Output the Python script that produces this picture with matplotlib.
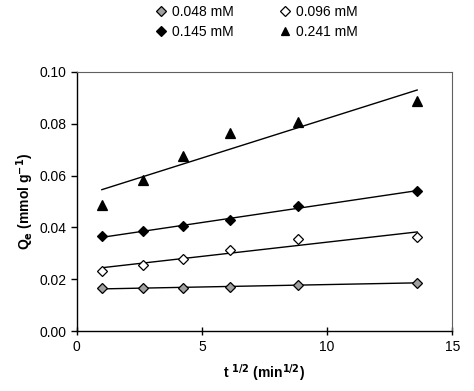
import numpy as np
import matplotlib
matplotlib.use("Agg")
import matplotlib.pyplot as plt

plt.rcParams['font.family'] = ['Liberation Sans', 'DejaVu Sans']
plt.rcParams['mathtext.default'] = 'regular'

t_sqrt = [1.0, 2.65, 4.24, 6.12, 8.83, 13.6]
labels = ["0.048 mM", "0.096 mM", "0.145 mM", "0.241 mM"]
q_048 = [0.0165, 0.0166, 0.0167, 0.0172, 0.0178, 0.0187]
q_096 = [0.0234, 0.0255, 0.0279, 0.0315, 0.0357, 0.0362]
q_145 = [0.0366, 0.0385, 0.0404, 0.0428, 0.0484, 0.0540]
q_241 = [0.0488, 0.0585, 0.0676, 0.0764, 0.0805, 0.0886]
x_ticks = [0, 5, 10, 15]
y_ticks = [0.00, 0.02, 0.04, 0.06, 0.08, 0.10]

series = [
    (q_048, dict(marker='D', mfc='#a0a0a0', mec='black', ms=5.5, mew=0.9)),
    (q_096, dict(marker='D', mfc='white', mec='black', ms=5.5, mew=0.9)),
    (q_145, dict(marker='D', mfc='black', mec='black', ms=5.5, mew=0.9)),
    (q_241, dict(marker='^', mfc='black', mec='black', ms=7, mew=0.9)),
]

fig = plt.figure(figsize=(4.74, 3.91), dpi=100)
ax = fig.add_axes([0.162, 0.153, 0.792, 0.663])

x = np.array(t_sqrt)
handles = []
for (y, st), lab in zip(series, labels):
    h, = ax.plot(x, y, linestyle='none', label=lab, **st)
    handles.append(h)
    k, b = np.polyfit(x, y, 1)
    xl = np.array([x[0], x[-1]])
    ax.plot(xl, k * xl + b, color='black', lw=1.0, zorder=1)

ax.set_xlim(0, 15)
ax.set_ylim(0, 0.10)
ax.set_xticks(x_ticks)
ax.set_yticks(y_ticks)
ax.set_yticklabels([f"{v:.2f}" for v in y_ticks])
ax.tick_params(axis='x', direction='inout', length=6, labelsize=10, width=1)
ax.tick_params(axis='y', direction='out', length=4, labelsize=10, width=1)
for s in ['top', 'right']:
    ax.spines[s].set_color('#606060')
    ax.spines[s].set_linewidth(0.8)
for s in ['left', 'bottom']:
    ax.spines[s].set_linewidth(1.0)

ax.set_xlabel(r"t $^{\mathbf{1/2}}$ (min$^{\mathbf{1/2}}$)", fontsize=10, fontweight='bold', labelpad=6)
ax.set_ylabel(r"Q$_{\mathbf{e}}$ (mmol g$^{\mathbf{-1}}$)", fontsize=10, fontweight='bold', labelpad=2)

order = [0, 2, 1, 3]
leg = fig.legend([handles[i] for i in order], [labels[i] for i in order], ncol=2,
                 loc='upper center', bbox_to_anchor=(0.54, 1.02), frameon=False,
                 fontsize=10, columnspacing=3.2, handletextpad=0.3, handlelength=1.0,
                 labelspacing=0.45, markerscale=0.85)

fig.savefig("out.png", dpi=100)
